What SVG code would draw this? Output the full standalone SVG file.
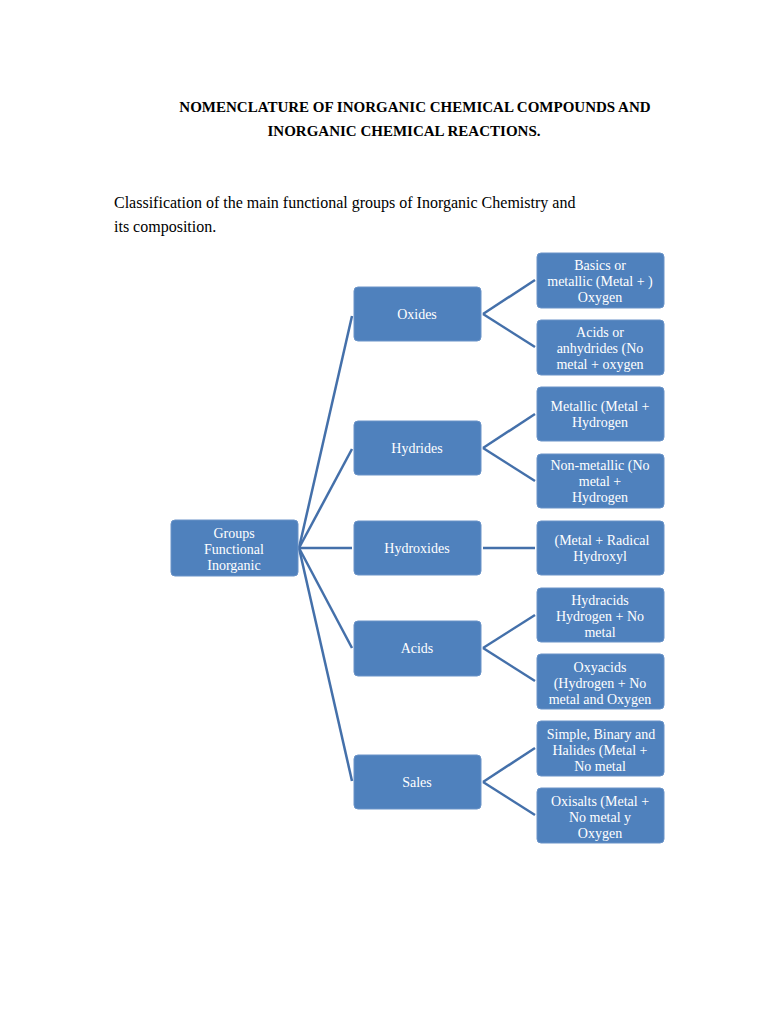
<svg xmlns="http://www.w3.org/2000/svg" width="768" height="1024" viewBox="0 0 768 1024">
<style>
.b{fill:#4F81BD;stroke:#6A93C8;stroke-width:1}
.t{font-family:"Liberation Serif",serif;font-size:14px;fill:#fff;text-anchor:middle}
.h{font-family:"Liberation Serif",serif;font-size:15px;font-weight:bold;fill:#000;text-anchor:middle}
.p{font-family:"Liberation Serif",serif;font-size:16px;fill:#000}
#c line{stroke:#4470AA;stroke-width:2.5}
</style>
<rect width="768" height="1024" fill="#fff"/>
<text class="h" x="415" y="112">NOMENCLATURE OF INORGANIC CHEMICAL COMPOUNDS AND</text>
<text class="h" x="404" y="136">INORGANIC CHEMICAL REACTIONS.</text>
<text class="p" x="114" y="208">Classification of the main functional groups of Inorganic Chemistry and</text>
<text class="p" x="114" y="232">its composition.</text>
<g id="c">
<line x1="299" y1="548" x2="352" y2="316"/>
<line x1="299" y1="548" x2="352" y2="449"/>
<line x1="299" y1="548" x2="352" y2="548"/>
<line x1="299" y1="548" x2="352" y2="648"/>
<line x1="299" y1="548" x2="352" y2="781"/>
<line x1="483" y1="314" x2="535" y2="280"/>
<line x1="483" y1="314" x2="535" y2="347"/>
<line x1="483" y1="448" x2="535" y2="414"/>
<line x1="483" y1="448" x2="535" y2="481"/>
<line x1="483" y1="548" x2="535" y2="548"/>
<line x1="483" y1="648" x2="535" y2="615"/>
<line x1="483" y1="648" x2="535" y2="681"/>
<line x1="483" y1="782" x2="535" y2="748"/>
<line x1="483" y1="782" x2="535" y2="815"/>
</g>
<g id="root"><rect class="b" x="171" y="520" width="127" height="56" rx="4"/><text class="t" x="234" y="538">Groups</text><text class="t" x="234" y="554">Functional</text><text class="t" x="234" y="570">Inorganic</text></g>
<g id="oxides"><rect class="b" x="354" y="287" width="127" height="54" rx="4"/><text class="t" x="417" y="319">Oxides</text></g>
<g id="hydrides"><rect class="b" x="354" y="421" width="127" height="54" rx="4"/><text class="t" x="417" y="453">Hydrides</text></g>
<g id="hydroxides"><rect class="b" x="354" y="521" width="127" height="54" rx="4"/><text class="t" x="417" y="553">Hydroxides</text></g>
<g id="acids"><rect class="b" x="354" y="621" width="127" height="55" rx="4"/><text class="t" x="417" y="653">Acids</text></g>
<g id="sales"><rect class="b" x="354" y="755" width="127" height="54" rx="4"/><text class="t" x="417" y="787">Sales</text></g>
<g id="basics"><rect class="b" x="537" y="253" width="127" height="55" rx="4"/><text class="t" x="600" y="270">Basics or</text><text class="t" x="600" y="286">metallic (Metal + )</text><text class="t" x="600" y="302">Oxygen</text></g>
<g id="acidsanh"><rect class="b" x="537" y="320" width="127" height="55" rx="4"/><text class="t" x="600" y="337">Acids or</text><text class="t" x="600" y="353">anhydrides (No</text><text class="t" x="600" y="369">metal + oxygen</text></g>
<g id="metallic"><rect class="b" x="537" y="387" width="127" height="54" rx="4"/><text class="t" x="600" y="411">Metallic (Metal +</text><text class="t" x="600" y="427">Hydrogen</text></g>
<g id="nonmetallic"><rect class="b" x="537" y="454" width="127" height="54" rx="4"/><text class="t" x="600" y="470">Non-metallic (No</text><text class="t" x="600" y="486">metal +</text><text class="t" x="600" y="502">Hydrogen</text></g>
<g id="hydroxyl"><rect class="b" x="537" y="521" width="127" height="54" rx="4"/><text class="t" x="602" y="545">(Metal + Radical</text><text class="t" x="600" y="561">Hydroxyl</text></g>
<g id="hydracids"><rect class="b" x="537" y="588" width="127" height="54" rx="4"/><text class="t" x="600" y="605">Hydracids</text><text class="t" x="600" y="621">Hydrogen + No</text><text class="t" x="600" y="637">metal</text></g>
<g id="oxyacids"><rect class="b" x="537" y="654" width="127" height="55" rx="4"/><text class="t" x="600" y="672">Oxyacids</text><text class="t" x="600" y="688">(Hydrogen + No</text><text class="t" x="600" y="704">metal and Oxygen</text></g>
<g id="simple"><rect class="b" x="537" y="721" width="127" height="55" rx="4"/><text class="t" x="601" y="739">Simple, Binary and</text><text class="t" x="600" y="755">Halides (Metal +</text><text class="t" x="600" y="771">No metal</text></g>
<g id="oxisalts"><rect class="b" x="537" y="788" width="127" height="55" rx="4"/><text class="t" x="600" y="806">Oxisalts (Metal +</text><text class="t" x="600" y="822">No metal y</text><text class="t" x="600" y="838">Oxygen</text></g>
</svg>
